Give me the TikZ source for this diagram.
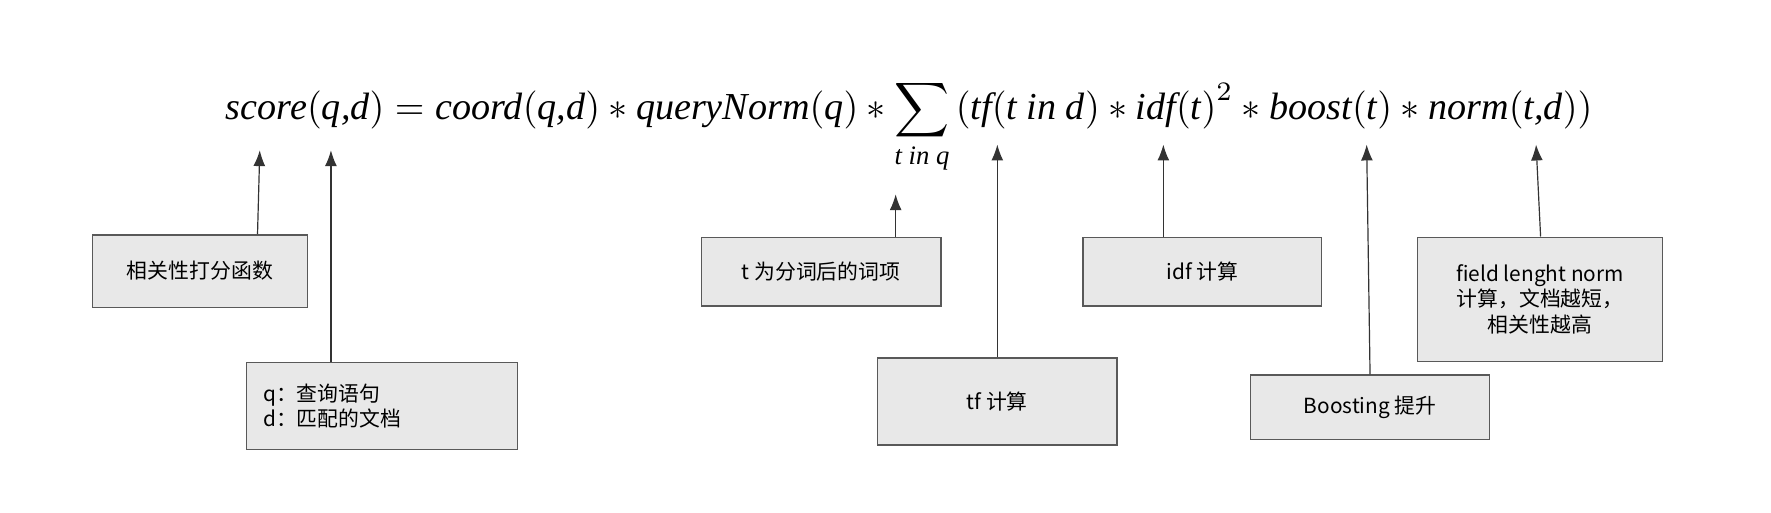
\documentclass[tikz,border=0pt]{standalone}
\usepackage{fontspec}
\setmainfont{Noto Sans CJK SC}
\newfontfamily\formfont{Liberation Serif}
\usepackage{graphicx}
\usepackage{amsmath}
\usetikzlibrary{arrows.meta}
\newcommand{\fit}[1]{\text{\formfont\itshape #1}}
\begin{document}
\begin{tikzpicture}[x=0.02cm,y=-0.02cm,
  box/.style={draw=black!65,fill=gray!18,line width=0.7pt,inner sep=0pt,font=\fontsize{10.5}{13}\selectfont,align=center},
  arr/.style={-{Latex[length=8pt,width=6pt]},line width=0.6pt,black!80}]
\useasboundingbox (0,0) rectangle (1568,454);
\node (f) at (805,112) {\resizebox{24.2cm}{!}{$\fit{score}\mathrm{(}\fit{q,d}\mathrm{)}=\fit{coord}\mathrm{(}\fit{q,d}\mathrm{)}*\fit{queryNorm}\mathrm{(}\fit{q}\mathrm{)}*\displaystyle\sum_{\fit{t in q}}\mathrm{(}\fit{tf}\mathrm{(}\fit{t in d}\mathrm{)}*\fit{idf}\mathrm{(}\fit{t}\mathrm{)}^2*\fit{boost}\mathrm{(}\fit{t}\mathrm{)}*\fit{norm}\mathrm{(}\fit{t,d}\mathrm{))}$}};
\node[box,minimum width=190*0.02cm,minimum height=64*0.02cm] (b1) at (177,240) {相关性打分函数};
\node[box,minimum width=240*0.02cm,minimum height=77*0.02cm,align=left,text width=210*0.02cm] (b2) at (338,359.5) {q：查询语句\\d：匹配的文档};
\node[box,minimum width=212*0.02cm,minimum height=61*0.02cm] (b3) at (727,240.5) {t 为分词后的词项};
\node[box,minimum width=212*0.02cm,minimum height=77*0.02cm] (b4) at (883,355.5) {tf 计算};
\node[box,minimum width=211*0.02cm,minimum height=61*0.02cm] (b5) at (1064.5,240.5) {idf 计算};
\node[box,minimum width=217*0.02cm,minimum height=110*0.02cm] (b6) at (1363.5,265) {field lenght norm\\计算，文档越短，\\相关性越高};
\node[box,minimum width=212*0.02cm,minimum height=57*0.02cm] (b7) at (1213,360.5) {Boosting 提升};
\coordinate (e1) at (230,133);
\coordinate (e2) at (293,133);
\coordinate (e3) at (793,172);
\coordinate (e4) at (883,128);
\coordinate (e5) at (1030,128);
\coordinate (e6) at (1360,128);
\coordinate (e7) at (1210,128);
\draw[arr] (b1.north -| 228,0) -- (e1);
\draw[arr] (b2.north -| e2) -- (e2);
\draw[arr] (b3.north -| e3) -- (e3);
\draw[arr] (b4.north -| e4) -- (e4);
\draw[arr] (b5.north -| e5) -- (e5);
\draw[arr] (b6.north -| 1364,0) -- (e6);
\draw[arr] (b7.north -| 1213,0) -- (e7);
\end{tikzpicture}
\end{document}
